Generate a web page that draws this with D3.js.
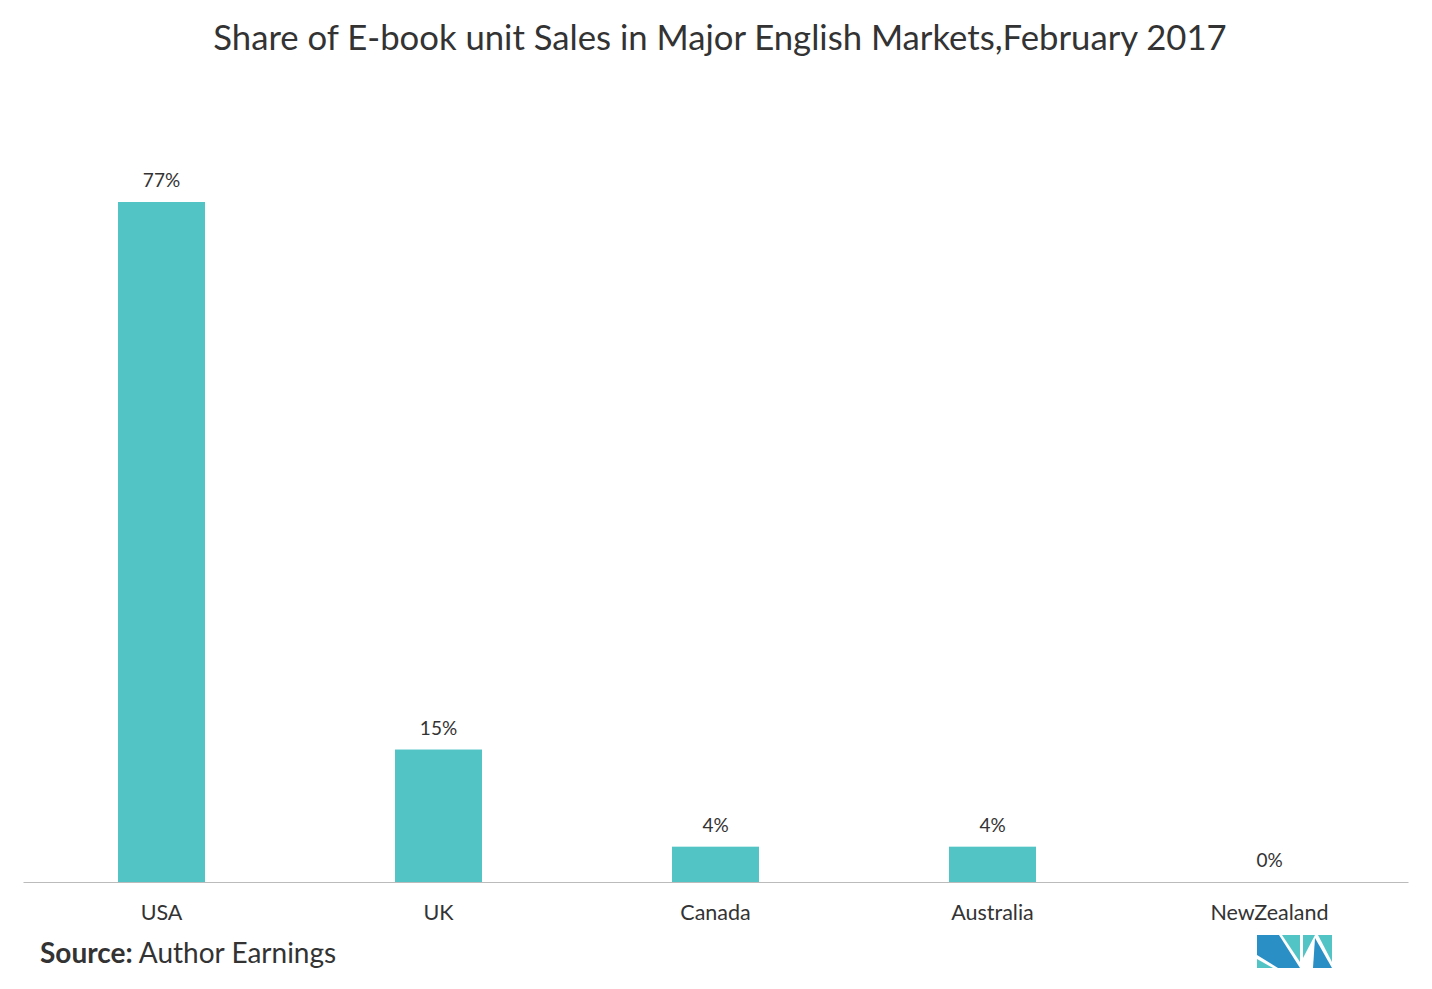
<!DOCTYPE html>
<html><head><meta charset="utf-8">
<script src="https://cdn.jsdelivr.net/npm/d3@7"></script>
<style>body{margin:0;background:#fff}text{font-family:Lato,"Open Sans",sans-serif}</style>
</head><body>
<svg id="c" width="1432" height="989"></svg>
<script>
const categories=["USA","UK","Canada","Australia","NewZealand"];
const values=[77,15,4,4,0];
const labels=["77%","15%","4%","4%","0%"];
const svg=d3.select("#c");
const x=d3.scaleBand().domain(categories).range([23,1408]).paddingInner(0.686).paddingOuter(0.343);
const y=d3.scaleLinear().domain([0,77]).range([882,202]);
svg.append("text").attr("x",720).attr("y",50).attr("text-anchor","middle").attr("font-size",34.7).attr("fill","#333").text("Share of E-book unit Sales in Major English Markets,February 2017");
svg.selectAll("rect.b").data(values).join("rect").attr("x",(d,i)=>x(categories[i])).attr("width",x.bandwidth()).attr("y",d=>y(d)).attr("height",d=>882-y(d)).attr("fill","#52c4c6");
svg.selectAll("text.v").data(values).join("text").attr("x",(d,i)=>x(categories[i])+x.bandwidth()/2).attr("y",d=>y(d)-15).attr("text-anchor","middle").attr("font-size",19).attr("fill","#333").text((d,i)=>labels[i]);
const ax=svg.append("g").attr("transform","translate(0,882)").call(d3.axisBottom(x).tickSize(0).tickPadding(23));
ax.select(".domain").attr("stroke","#bbb");
ax.selectAll("text").attr("font-size",21.5).attr("fill","#333").style("font-family","Lato");
svg.append("text").attr("x",40).attr("y",963).attr("font-size",28).attr("fill","#333").html('<tspan font-weight="bold">Source:</tspan> Author Earnings');
const g=svg.append("g");
g.append("path").attr("d","M1257,935 L1279,935 L1300,968 L1278,968 L1257,955 Z").attr("fill","#2a8fc4");
g.append("path").attr("d","M1257,959 L1273,968 L1257,968 Z").attr("fill","#52c4c6");
g.append("path").attr("d","M1282,935 L1300,935 L1300,962 Z").attr("fill","#52c4c6");
g.append("path").attr("d","M1303,935 L1315,935 L1303,958 Z").attr("fill","#52c4c6");
g.append("path").attr("d","M1315,938 L1332,968 L1313,968 Z").attr("fill","#2a8fc4");
g.append("path").attr("d","M1318,935 L1332,935 L1332,962 Z").attr("fill","#52c4c6");
</script></body></html>
